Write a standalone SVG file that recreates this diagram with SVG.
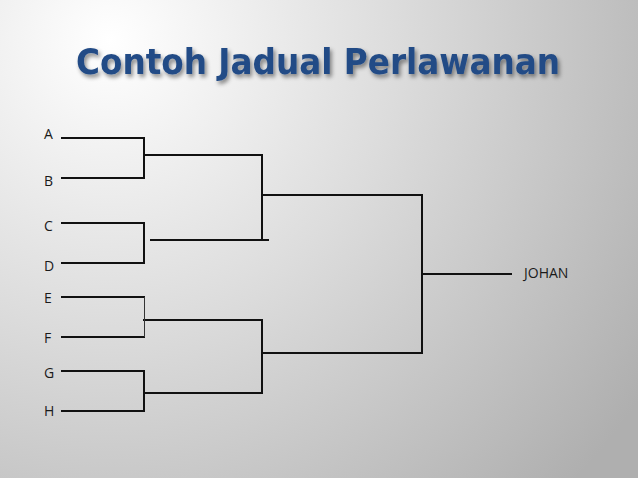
<svg xmlns="http://www.w3.org/2000/svg" width="638" height="478" viewBox="0 0 638 478">
<defs>
<radialGradient id="bg" gradientUnits="userSpaceOnUse" cx="110" cy="40" r="640">
<stop offset="0" stop-color="#ffffff"/>
<stop offset="0.45" stop-color="#dcdcdc"/>
<stop offset="1" stop-color="#afafaf"/>
</radialGradient>
<filter id="sh" filterUnits="userSpaceOnUse" x="0" y="0" width="638" height="130">
<feDropShadow dx="2" dy="3" stdDeviation="2" flood-color="#000" flood-opacity="0.45"/>
</filter>
</defs>
<style>
.ln{stroke:#111;stroke-width:2;fill:none;stroke-linecap:square}
.thin{stroke:#333;stroke-width:1;fill:none}
.lbl{font-family:"Open Sans","Liberation Sans",sans-serif;font-size:14px;fill:#1a1a1a}
.title{font-family:"DejaVu Sans Condensed","DejaVu Sans",sans-serif;font-stretch:condensed;font-weight:bold;font-size:36px;fill:#244c86}
</style>
<rect x="0" y="0" width="638" height="478" fill="url(#bg)"/>
<text class="title" x="76" y="74" textLength="484" lengthAdjust="spacingAndGlyphs" filter="url(#sh)">Contoh Jadual Perlawanan</text>

<g id="team-A"><text class="lbl" x="44" y="139">A</text></g>
<g id="team-B"><text class="lbl" x="44" y="186">B</text></g>
<g id="team-C"><text class="lbl" x="44" y="231">C</text></g>
<g id="team-D"><text class="lbl" x="44" y="271">D</text></g>
<g id="team-E"><text class="lbl" x="44" y="303">E</text></g>
<g id="team-F"><text class="lbl" x="44" y="343">F</text></g>
<g id="team-G"><text class="lbl" x="44" y="378">G</text></g>
<g id="team-H"><text class="lbl" x="44" y="416">H</text></g>
<g id="johan"><text class="lbl" x="524" y="278">JOHAN</text></g>

<g id="connectors">
<path class="ln" d="M62 138H144V178H62M144 155H262"/>
<path class="ln" d="M62 223H144V263H62M151 240H268"/>
<path class="ln" d="M262 155V240M262 195H422"/>
<path class="ln" d="M62 297H144M144 337H62M144 320H262"/>
<path class="thin" d="M144.5 297V337"/>
<path class="ln" d="M62 371H144V411H62M144 393H262"/>
<path class="ln" d="M262 320V393M262 353H422"/>
<path class="ln" d="M422 195V353M422 274H511"/>
</g>
</svg>
